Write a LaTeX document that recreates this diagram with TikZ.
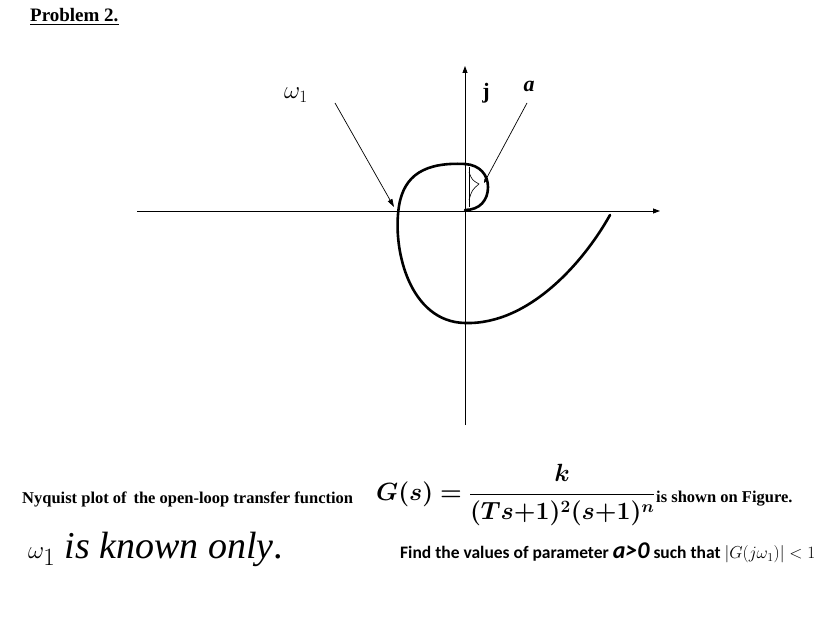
\documentclass[tikz,border=0pt]{standalone}
\usepackage{fontspec}
\setmainfont{Liberation Serif}
\newfontfamily\carl{Carlito}
\usepackage{amsmath,bm}
\usetikzlibrary{arrows.meta}
\begin{document}
\begin{tikzpicture}[x=1pt,y=-1pt,
 ax/.style={line width=0.8pt,-{Triangle[length=7pt,width=5pt]}},
 cur/.style={line width=2.6pt,line cap=round},
 ptr/.style={line width=0.7pt,-{Triangle[length=8pt,width=5pt]}},
 lab/.style={inner sep=0pt}]
\useasboundingbox (0,0) rectangle (835,617);
\node[lab,anchor=west] (prob) at (30,17) {\fontsize{19}{21}\selectfont\bfseries\underline{Problem 2.}};
\coordinate (xl) at (137,211); \coordinate (xr) at (660,211);
\coordinate (yb) at (465,425); \coordinate (yt) at (465,66);
\draw[ax] (xl) -- (xr);
\draw[ax] (yb) -- (yt);
\draw[cur] (465,210) .. controls (480,210) and (488,200) .. (488,187)
  .. controls (488,175) and (480,165) .. (465,164)
  .. controls (425,162) and (404,175) .. (399,206)
  .. controls (392,250) and (410,322) .. (465,323)
  .. controls (530,325) and (585,260) .. (610,215);
\draw[line width=0.6pt] (469,167) -- (469,207);
\draw[line width=0.6pt] (469,172) .. controls (472,180) .. (479,184) .. controls (472,190) .. (469,200);
\node[lab] (w1) at (296,95) {\fontsize{26}{28}\selectfont$\omega_1$};
\node[lab] (j) at (486,93) {\fontsize{22}{24}\selectfont\bfseries j};
\node[lab] (a) at (529,86) {\fontsize{22}{24}\selectfont\bfseries\itshape a};
\coordinate (w1s) at (335,103); \coordinate (w1e) at (394,207);
\coordinate (as) at (527,103); \coordinate (ae) at (484,183);
\draw[ptr] (w1s) -- (w1e);
\draw[line width=0.7pt,-{Triangle[length=4pt,width=3pt]}] (as) -- (ae);
\node[lab,anchor=west] (t1) at (22,499) {\fontsize{16.5}{18}\selectfont\bfseries Nyquist plot of\, the open-loop transfer function};
\node[lab,anchor=west] (gs) at (376,495) {\fontsize{24}{28}\selectfont$\bm{G(s)=\dfrac{k}{(Ts{+}1)^2(s{+}1)^n}}$};
\node[lab,anchor=west] (t2) at (656,499) {\fontsize{16.5}{18}\selectfont\bfseries is shown on Figure.};
\node[lab,anchor=west] (t3) at (28,549) {\fontsize{38}{40}\selectfont$\omega_1$\ \textit{is known only}.};
\node[lab,anchor=west] (t4) at (400,553) {\carl\bfseries\fontsize{17.5}{19}\selectfont Find the values of parameter {\fontsize{24}{26}\selectfont\itshape a>0} such that {\normalfont$|G(j\omega_1)|<1$}};
\end{tikzpicture}
\end{document}
